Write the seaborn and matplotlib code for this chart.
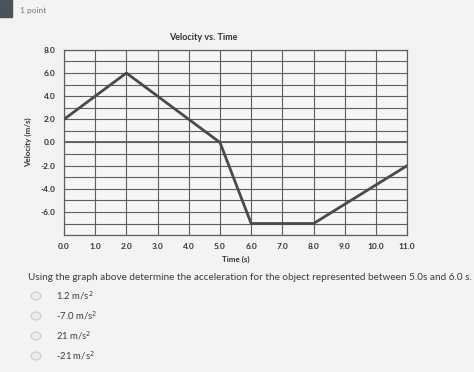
import matplotlib
matplotlib.use("Agg")
import matplotlib.pyplot as plt
import matplotlib.patches as mpatches
import pandas as pd
import seaborn as sns

# data
time_s = [0.0, 2.0, 5.0, 6.0, 8.0, 11.0]
velocity = [2.0, 6.0, 0.0, -7.0, -7.0, -2.0]
x_ticks = [0.0, 1.0, 2.0, 3.0, 4.0, 5.0, 6.0, 7.0, 8.0, 9.0, 10.0, 11.0]
y_ticks = [-6.0, -4.0, -2.0, 0.0, 2.0, 4.0, 6.0, 8.0]
answers = ["1.2 m/s$^2$", "-7.0 m/s$^2$", "21 m/s$^2$", "-21 m/s$^2$"]
question = "Using the graph above determine the acceleration for the object represented between 5.0s and 6.0 s."

df = pd.DataFrame({"Time (s)": time_s, "Velocity (m/s)": velocity})

sns.set_style("white")
plt.rcParams["font.family"] = ["Lato", "DejaVu Sans"]

bg = "#f3f3f2"
fig = plt.figure(figsize=(4.74, 3.72), dpi=100, facecolor=bg)
ax = fig.add_axes([0.135, 0.368, 0.724, 0.498])
ax.set_facecolor("#f6f6f5")

sns.lineplot(data=df, x="Time (s)", y="Velocity (m/s)", ax=ax,
             color="#4a4a4a", linewidth=2.0, zorder=3)

ax.set_xlim(0, 11)
ax.set_ylim(-8, 8)
ax.set_xticks(x_ticks)
ax.set_xticklabels([f"{v:.1f}" for v in x_ticks])
ax.set_yticks(y_ticks)
ax.set_yticklabels([f"{v:.1f}" for v in y_ticks])
ax.set_yticks(range(-8, 9), minor=True)
ax.grid(True, which="both", color="#5e5e5e", linewidth=0.8)
ax.axhline(0, color="#5e5e5e", linewidth=1.3)
for s in ax.spines.values():
    s.set_color("#5e5e5e")
    s.set_linewidth(0.9)
ax.tick_params(axis="both", which="both", length=0, labelsize=6,
               labelcolor="#333333", pad=6)
for lab in ax.get_xticklabels() + ax.get_yticklabels():
    lab.set_fontweight("bold")

ax.set_title("Velocity vs. Time", fontsize=6.5, fontweight="bold",
             color="#333333", pad=7, x=0.405)
ax.set_xlabel("Time (s)", fontsize=5.8, fontweight="bold", color="#333333",
              labelpad=4)
ax.set_ylabel("Velocity (m/s)", fontsize=5.8, fontweight="bold",
              color="#333333", labelpad=6)

# quiz page around the chart
fig.patches.append(mpatches.Rectangle((0, 1 - 17 / 372), 12 / 474, 17 / 372,
                                      transform=fig.transFigure,
                                      color="#4a525a", zorder=0))
fig.text(20 / 474, 1 - 10 / 372, "1 point", fontsize=6, color="#777777",
         va="center")
fig.text(28 / 474, 1 - 278 / 372, question, fontsize=7.2, color="#3c3c3c",
         va="center")

ans_y = [296, 316, 336, 356]
for yy, txt in zip(ans_y, answers):
    fig.patches.append(mpatches.Circle((36 / 474, 1 - yy / 372), 5 / 474,
                                       transform=fig.transFigure,
                                       facecolor="#ececec",
                                       edgecolor="#cccccc", linewidth=0.8))
    fig.text(56 / 474, 1 - yy / 372, txt, fontsize=6.8, color="#3c3c3c",
             va="center")

fig.savefig("out.png", dpi=100, facecolor=bg)
